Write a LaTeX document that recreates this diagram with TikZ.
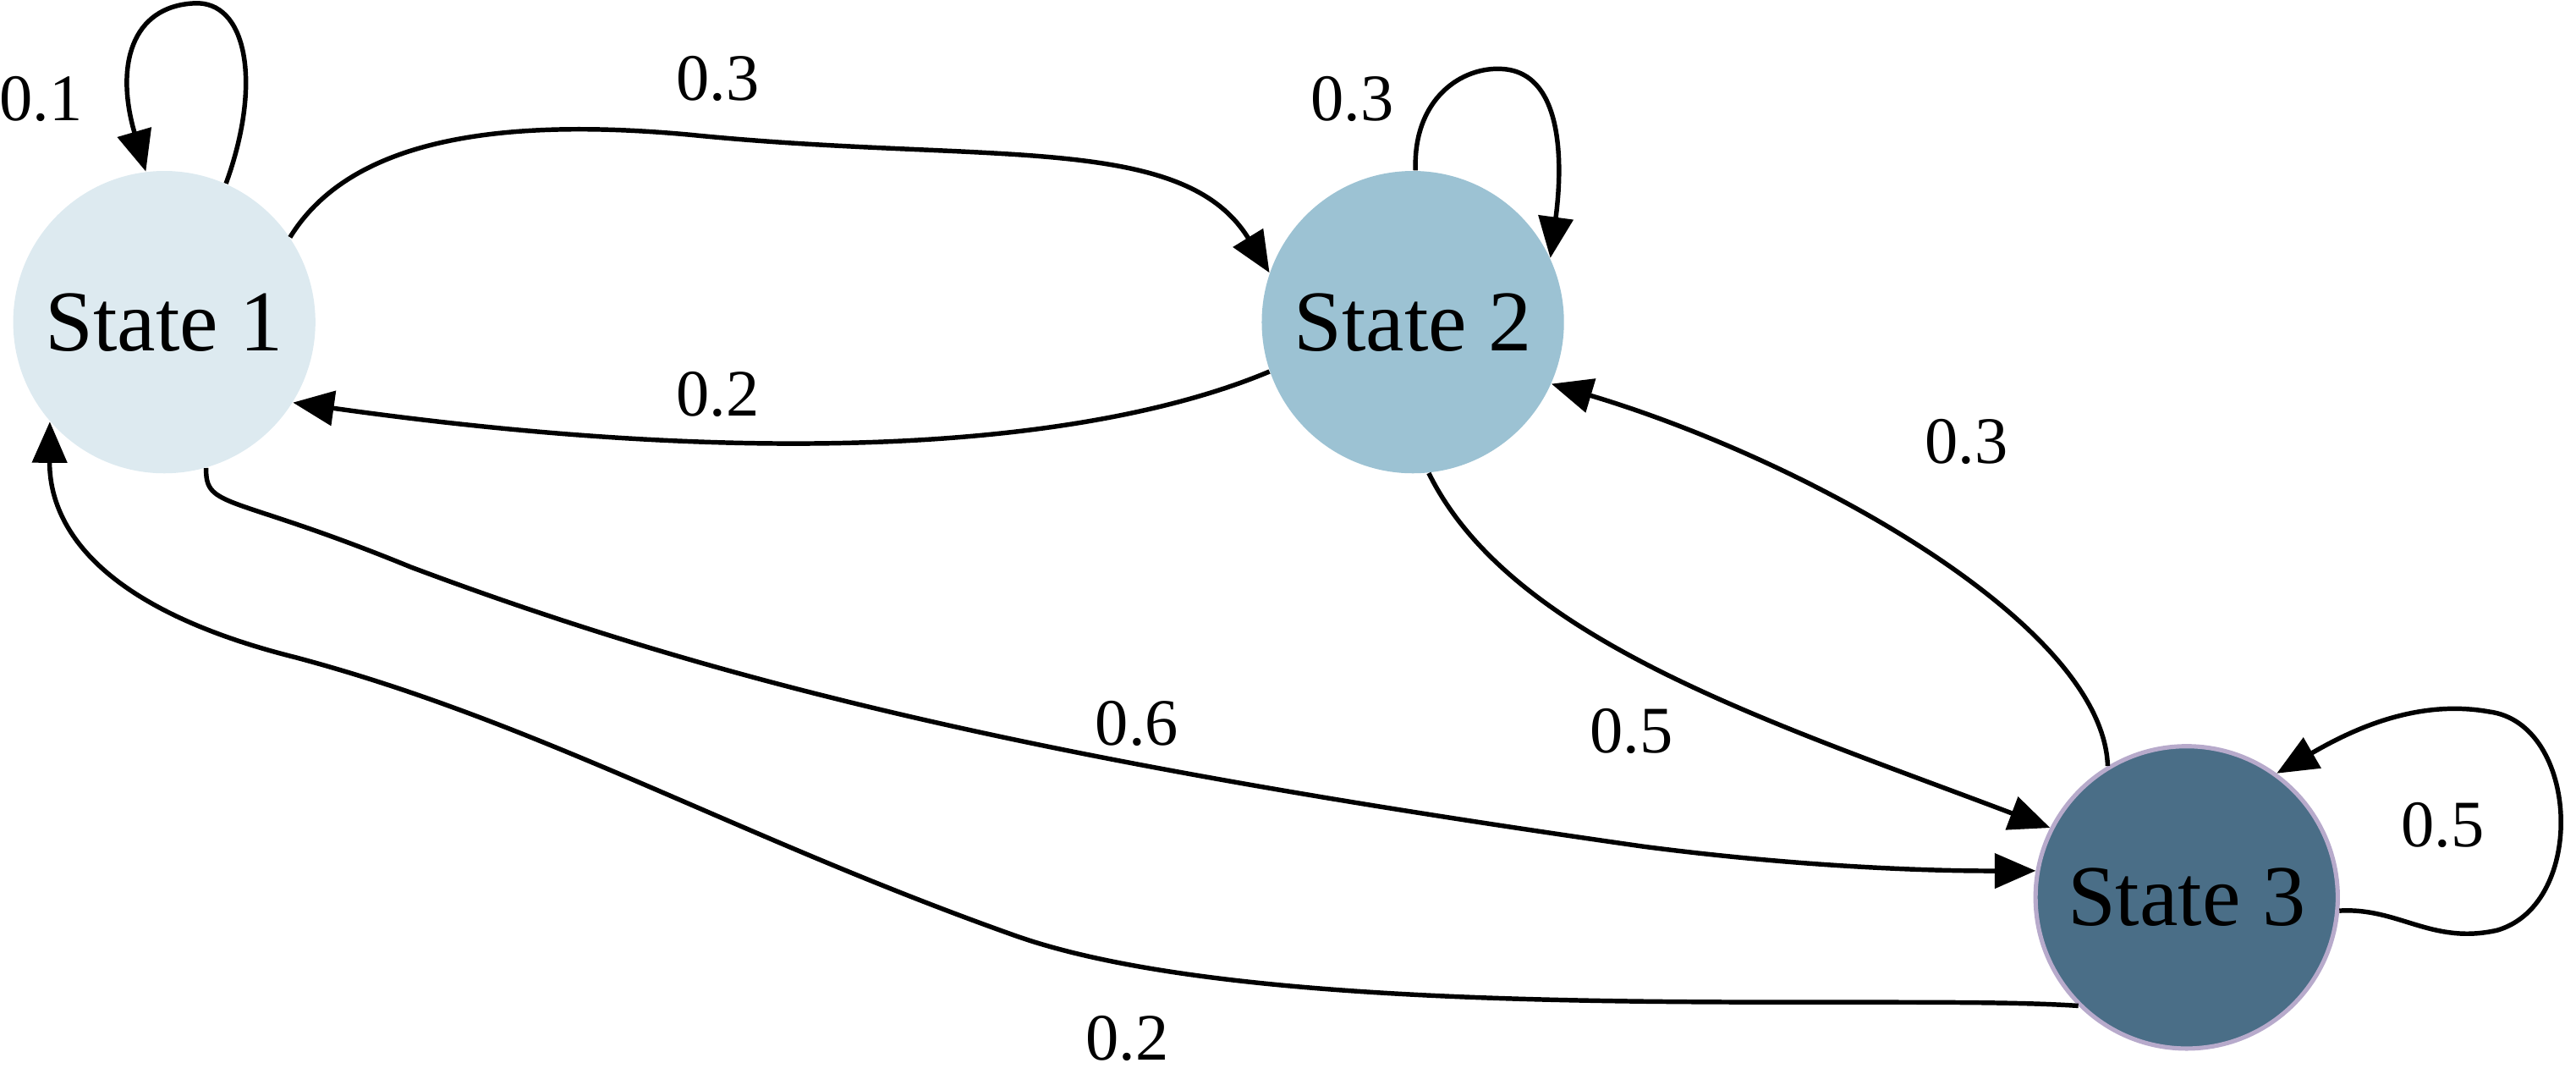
\documentclass[tikz,border=0pt]{standalone}
\usepackage{fontspec}
\setmainfont{Liberation Serif}
\usetikzlibrary{arrows.meta}
\definecolor{cA}{HTML}{DDEAF0}
\definecolor{cB}{HTML}{9CC2D3}
\definecolor{cC}{HTML}{4A6E87}
\definecolor{cCb}{HTML}{B7AACB}
\tikzset{
  st/.style={circle,minimum size=3.68cm,inner sep=0pt,font=\fontsize{30}{32}\selectfont},
  tr/.style={line width=1.6pt,-{Triangle[length=0.5cm,width=0.42cm]}},
  lb/.style={font=\fontsize{23}{25}\selectfont}
}
\begin{document}
\begin{tikzpicture}[x=0.02cm,y=-0.02cm]
\useasboundingbox (0,0) rectangle (1568,653);
\node[st,fill=cA] (s1) at (100,196) {State 1};
\node[st,fill=cB] (s2) at (860,196) {State 2};
\node[st,fill=cC,draw=cCb,line width=1.5pt] (s3) at (1331,546) {State 3};
% self loops
\draw[tr] (s1.66) .. controls (160,50) and (150,0) .. (118,2) .. controls (80,4) and (70,40) .. (s1.97);
\draw[tr] (s2.89) .. controls (860,60) and (890,40) .. (915,42) .. controls (955,45) and (950,110) .. (s2.25);
\draw[tr] (s3.-5) .. controls (1460,552) and (1480,575) .. (1520,566) .. controls (1575,550) and (1570,440) .. (1515,433) .. controls (1470,425) and (1430,445) .. (s3.54);
% between states
\draw[tr] (s1.34) .. controls (210,90) and (290,70) .. (420,82) .. controls (600,100) and (720,80) .. (s2.161);
\draw[tr] (s2.199) .. controls (680,265) and (500,290) .. (s1.-32);
\draw[tr] (s3.121) .. controls (1280,380) and (1100,280) .. (s2.-24);
\draw[tr] (s2.-84) .. controls (920,390) and (1080,440) .. (s3.153);
\draw[tr] (s1.-74) .. controls (125,310) and (140,300) .. (250,345) .. controls (450,420) and (650,465) .. (1000,515) .. controls (1100,528) and (1180,530) .. (s3.170);
\draw[tr] (s3.225) .. controls (1150,604) and (780,625) .. (620,570) .. controls (450,510) and (330,440) .. (180,400) .. controls (60,370) and (30,320) .. (s1.221);
% labels
\node[lb] (l1) at (25,60) {0.1};
\node[lb] (l2) at (437,48) {0.3};
\node[lb] (l3) at (823,60) {0.3};
\node[lb] (l4) at (437,240) {0.2};
\node[lb] (l5) at (1197,269) {0.3};
\node[lb] (l6) at (692,440) {0.6};
\node[lb] (l7) at (993,445) {0.5};
\node[lb] (l8) at (1487,502) {0.5};
\node[lb] (l9) at (686,632) {0.2};
\end{tikzpicture}
\end{document}
